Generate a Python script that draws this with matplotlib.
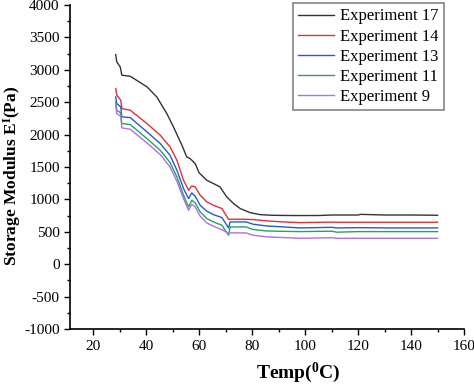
import matplotlib
matplotlib.use("Agg")
import matplotlib.pyplot as plt
from matplotlib.ticker import MultipleLocator

plt.rcParams['font.family'] = ['Liberation Serif', 'DejaVu Serif']
plt.rcParams['mathtext.fontset'] = 'custom'
plt.rcParams['mathtext.rm'] = 'Liberation Serif'
plt.rcParams['mathtext.bf'] = 'Liberation Serif:bold'
plt.rcParams['axes.unicode_minus'] = False

temp17 = [28.5, 28.9, 30.2, 30.8, 34, 40.3, 44, 47.8, 50.3, 53.5, 55.3, 56.6, 58.5, 60,
          62.9, 65.4, 67.9, 70.4, 73, 75.5, 79.2, 83, 88, 95, 105, 110, 120, 121, 130, 140, 150]
exp17 = [3235, 3122, 3045, 2917, 2900, 2737, 2582, 2325, 2119, 1836, 1656, 1630, 1553, 1409,
         1296, 1245, 1193, 1039, 936, 859, 797, 766, 755, 752, 752, 760, 760, 770, 760, 760, 756]

temp_low = [28.5, 28.9, 30.4, 30.8, 34, 40.3, 45.3, 49, 51.6, 54.1, 56, 57.2, 58.5, 60.4,
            62.9, 65.4, 68.6, 71.1, 71.7, 77.7, 80.5, 85.5, 91.8, 98, 110, 112, 120, 130, 140, 150]
exp14 = [2711, 2608, 2531, 2402, 2377, 2171, 1991, 1811, 1605, 1296, 1142, 1209, 1193, 1065,
         962, 910, 859, 694, 694, 694, 689, 669, 653, 643, 650, 648, 648, 648, 648, 648]
exp13 = [2582, 2479, 2428, 2274, 2263, 2042, 1862, 1682, 1451, 1168, 1013, 1101, 1049, 910,
         818, 766, 720, 561, 653, 653, 617, 591, 576, 561, 570, 561, 565, 561, 561, 561]
exp11 = [2505, 2377, 2335, 2171, 2155, 1939, 1759, 1569, 1348, 1065, 885, 988, 946, 808,
         705, 653, 602, 448, 576, 576, 535, 514, 508, 504, 510, 495, 504, 504, 504, 504]
exp9 = [2454, 2325, 2284, 2104, 2083, 1872, 1692, 1502, 1281, 1013, 833, 926, 885, 741,
        638, 586, 535, 473, 484, 484, 448, 422, 412, 401, 410, 401, 401, 401, 401, 401]

labels = ["Experiment 17", "Experiment 14", "Experiment 13", "Experiment 11", "Experiment 9"]
colors = ["#333333", "#e0303a", "#2060c0", "#2aa060", "#b070e0"]

fig = plt.figure(figsize=(4.74, 3.84), dpi=100)
ax = fig.add_axes([0.148, 0.143, 0.831, 0.844])

series = [(temp17, exp17), (temp_low, exp14), (temp_low, exp13), (temp_low, exp11), (temp_low, exp9)]
for (t, v), lab, c in zip(series, labels, colors):
    ax.plot(t, v, color=c, lw=1.0, label=lab)

ax.set_xlim(11.3, 160)
ax.set_ylim(-1000, 4000)
ax.xaxis.set_major_locator(MultipleLocator(20))
ax.xaxis.set_minor_locator(MultipleLocator(10))
ax.yaxis.set_major_locator(MultipleLocator(500))
ax.yaxis.set_minor_locator(MultipleLocator(250))
ax.spines['top'].set_visible(False)
ax.spines['right'].set_visible(False)
ax.spines['left'].set_linewidth(1.2)
ax.spines['bottom'].set_linewidth(1.2)
ax.tick_params(axis='both', which='major', direction='out', length=4, width=1, labelsize=11)
ax.tick_params(axis='both', which='minor', direction='out', length=2.5, width=1)

ax.set_xlabel("Temp($\\mathbf{^0}$C)", fontsize=14, fontweight='bold')
ax.xaxis.set_label_coords(0.58, -0.134)
ax.xaxis.label.set_verticalalignment('center')
ax.set_ylabel("Storage Modulus E$\\mathbf{^I}$(Pa)", fontsize=12.5, fontweight='bold')
ax.yaxis.set_label_coords(-0.148, 0.472)
ax.yaxis.label.set_verticalalignment('center')

leg = ax.legend(loc='upper right', bbox_to_anchor=(0.948, 1.005), fontsize=12, frameon=True,
                fancybox=False, edgecolor='#666666', handlelength=2.2, handletextpad=0.35,
                labelspacing=0.25, borderpad=0.3, borderaxespad=0)
leg.get_frame().set_linewidth(1.2)

fig.savefig("out.png", dpi=100)
